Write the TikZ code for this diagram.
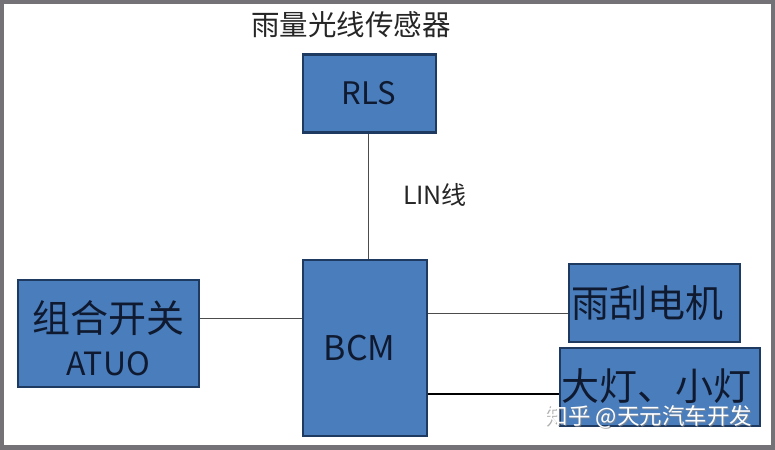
\documentclass[tikz,border=0pt]{standalone}
\usepackage{fontspec}
\setmainfont{Noto Sans CJK SC}
\definecolor{boxfill}{HTML}{4A7DBB}
\definecolor{boxline}{HTML}{1F3A60}
\definecolor{frameg}{HTML}{747276}
\definecolor{ink}{HTML}{0F1A30}
\tikzset{
  blk/.style={draw=boxline,line width=2.2pt,fill=boxfill,text=ink,inner sep=0pt,align=center,anchor=north west},
  wire/.style={draw=black!70,line width=1pt},
  wirebold/.style={draw=black,line width=2pt},
  lab/.style={text=black!85,inner sep=0pt},
  wmark/.style={inner sep=0pt,font=\fontsize{22.5}{22.5}\selectfont}
}
\begin{document}
\begin{tikzpicture}[x=1pt,y=-1pt]
\useasboundingbox (0,0) rectangle (775,449);
\fill[white] (0,0) rectangle (775,449);
\draw[frameg,line width=5pt] (1.5,2) rectangle (773,447);
\node[blk,minimum width=133pt,minimum height=78pt,font=\fontsize{31}{31}\selectfont] (rls) at (301.5,53.5) {\hspace*{-1pt}RLS};
\node[blk,minimum width=124pt,minimum height=176pt,font=\fontsize{34}{34}\selectfont] (bcm) at (301.5,258.5) {\hspace*{-10pt}BCM};
\node[blk,minimum width=181pt,minimum height=107pt,font=\fontsize{38}{44}\selectfont] (sw) at (16.5,278.5) {\raisebox{-18pt}[0pt][0pt]{\begin{tabular}{@{}c@{}}组合开关\\[-1pt]{\fontsize{32}{32}\selectfont ATUO}\end{tabular}}};
\node[blk,minimum width=171pt,minimum height=78pt,font=\fontsize{38}{38}\selectfont] (wiper) at (567.5,262.5) {\hspace*{-14pt}雨刮电机};
\node[blk,minimum width=200pt,minimum height=78pt,font=\fontsize{38}{38}\selectfont] (lamp) at (558.5,346.5) {\hspace*{-6pt}\raisebox{4pt}{大灯、小灯}};
\node[lab,font=\fontsize{28.5}{28.5}\selectfont] (title) at (351,25) {雨量光线传感器};
\node[lab,font=\fontsize{25}{25}\selectfont] (lin) at (435,195) {LIN线};
\draw[wire] (rls.south -| 368,0) -- (bcm.north -| 368,0);
\draw[wire] (sw.east |- 0,318) -- (bcm.west |- 0,318);
\draw[wire] (bcm.east |- 0,313) -- (wiper.west |- 0,313);
\draw[wirebold] (bcm.east |- 0,394) -- (lamp.west |- 0,394);
\node[wmark,text=black!45,opacity=0.7] (wmshadow) at (650,418) {知乎 @天元汽车开发};
\node[wmark,text=white] (wm) at (649,417) {知乎 @天元汽车开发};
\end{tikzpicture}
\end{document}
